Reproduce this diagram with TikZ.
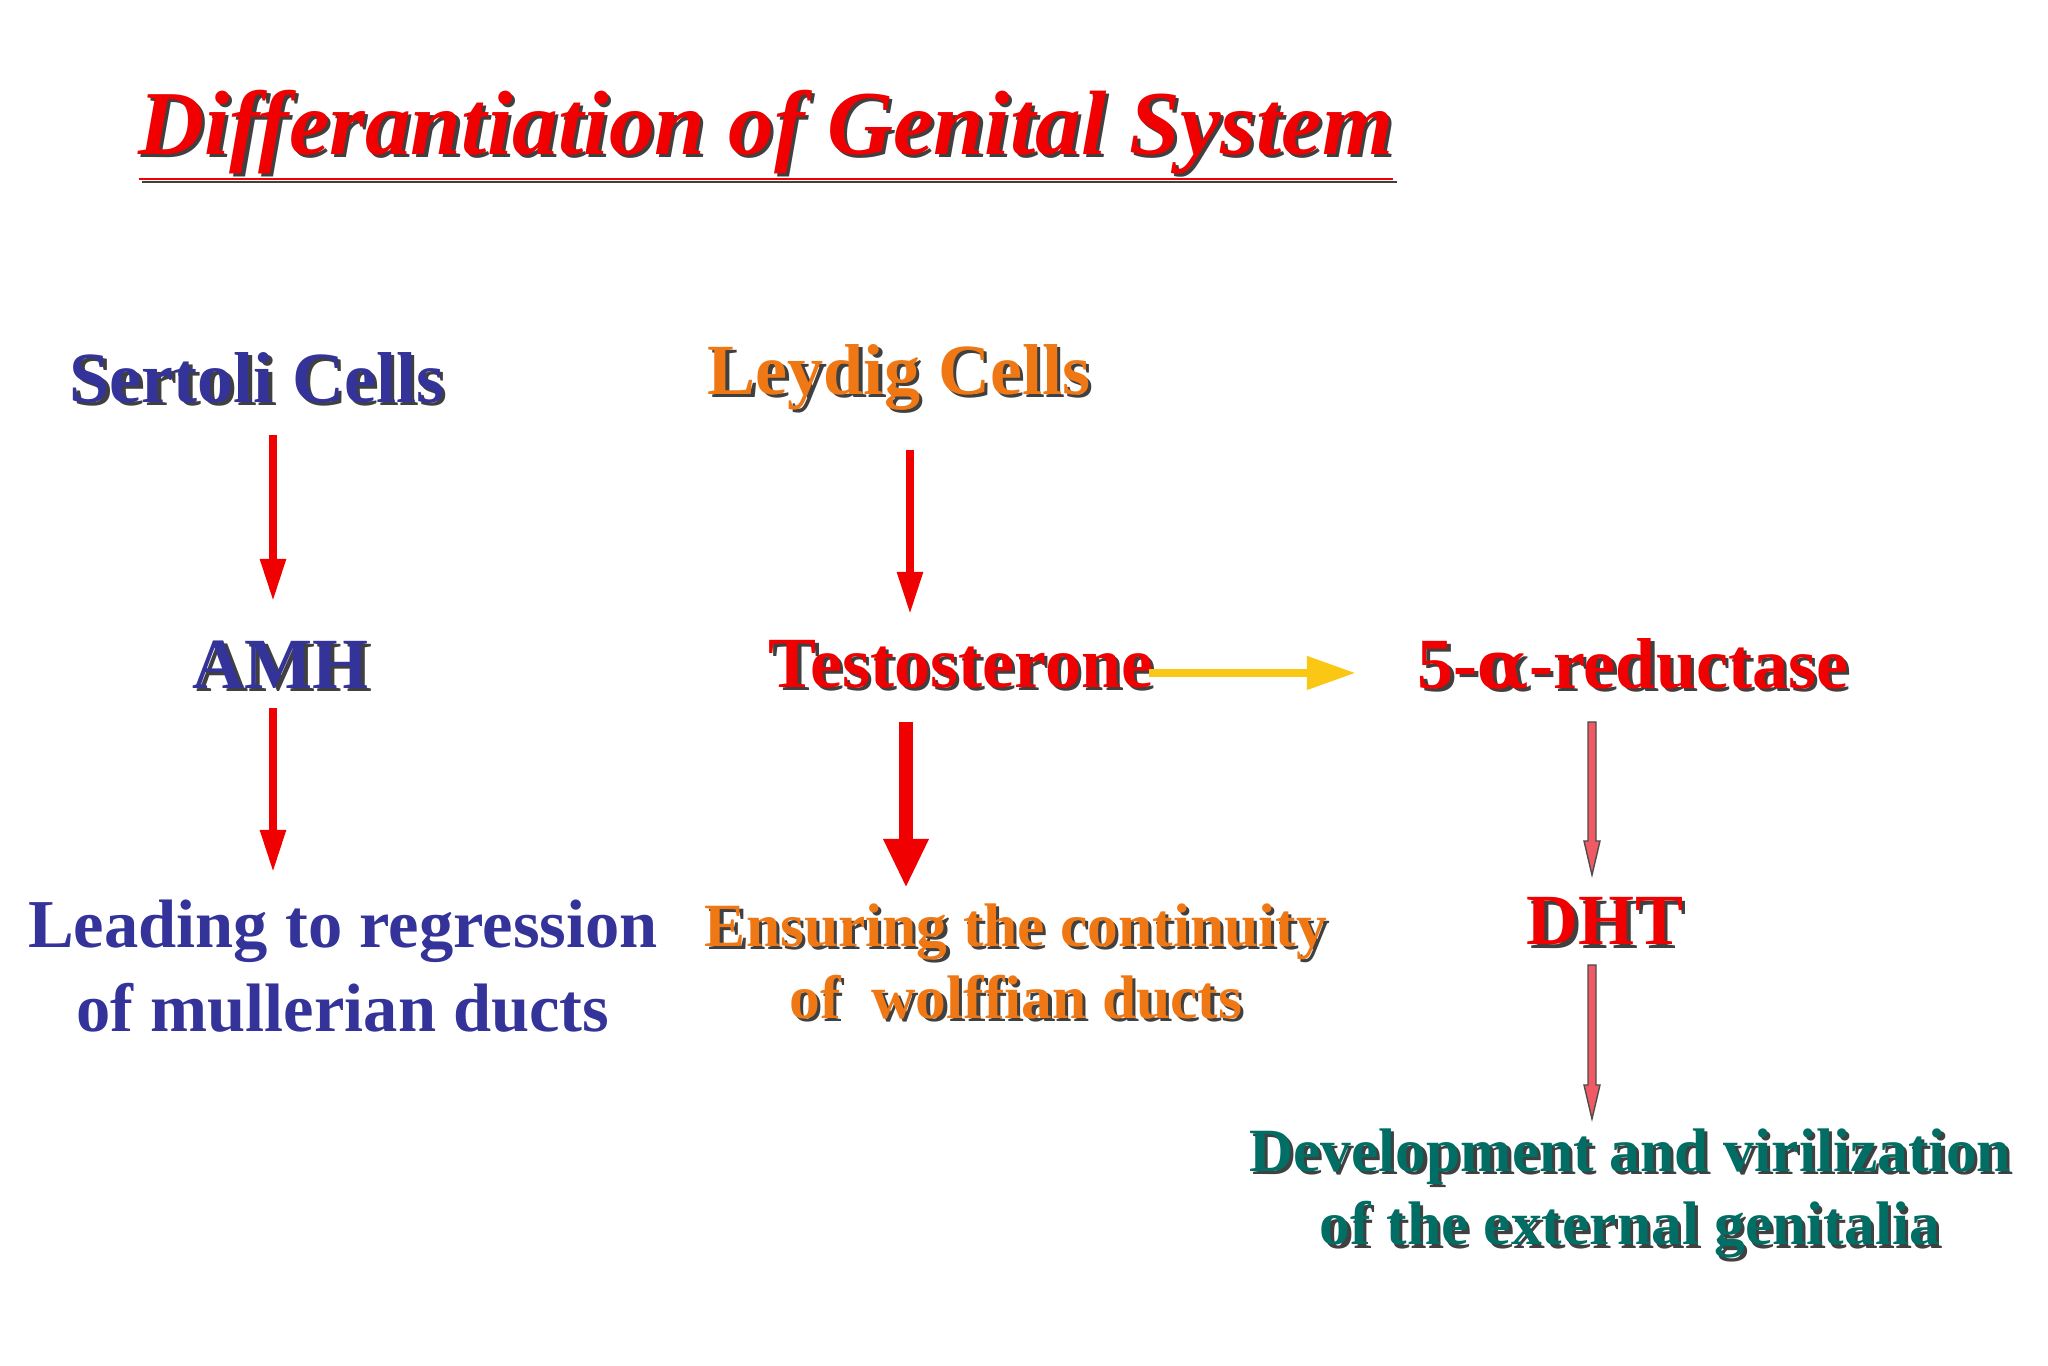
\documentclass[tikz,border=0pt]{standalone}
\usepackage{fontspec}
\setmainfont{Liberation Serif}
\usetikzlibrary{arrows.meta}
\definecolor{tred}{RGB}{240,0,0}
\definecolor{tblue}{RGB}{51,51,153}
\definecolor{torange}{RGB}{240,120,20}
\definecolor{tteal}{RGB}{0,110,100}
\definecolor{tyel}{RGB}{250,200,20}
\definecolor{tpink}{RGB}{240,90,100}
\newcommand\shtx[2]{\rlap{\raisebox{-0.9pt}{\hspace{0.9pt}\color{black!75}#2}}{\color{#1}#2}}
\newcommand\ul[1]{\underline{#1}}
\tikzset{
 lbl/.style={font=\bfseries\fontsize{20.5}{25}\selectfont, inner sep=1pt, align=center},
 rarr/.style={draw=tred, line width=2pt, -{Triangle[length=12pt,width=7pt]}},
 parr/.style={draw=black!70, fill=tpink, line width=0.4pt},
}
\begin{document}
\begin{tikzpicture}
\useasboundingbox (0,0) rectangle (20.48,13.66);
\node[font=\bfseries\itshape\fontsize{26}{30}\selectfont] (title) at (7.66,12.29)
  {\shtx{tred}{\setlength{\fboxsep}{0pt}\ul{Differantiation of Genital System}}};
\node[lbl] (sertoli) at (2.57,9.87) {\shtx{tblue}{Sertoli Cells}};
\node[lbl] (leydig) at (8.99,9.87) {\shtx{torange}{Leydig Cells}};
\node[lbl] (amh) at (2.81,7.00) {\shtx{tblue}{AMH}};
\node[lbl] (testo) at (9.61,7.00) {\shtx{tred}{Testosterone}};
\node[lbl] (red) at (16.33,7.00) {\shtx{tred}{5-\fontspec{DejaVu Serif}\fontsize{19}{25}\selectfont\char"03B1\normalfont\bfseries\fontsize{20.5}{25}\selectfont-reductase}};
\node[font=\bfseries\fontsize{19.5}{24}\selectfont, text=tblue, align=center] (lead) at (3.43,4.0)
  {Leading to regression\\ of mullerian ducts};
\node[lbl, font=\bfseries\fontsize{17.5}{20.5}\selectfont] (ens) at (10.16,4.03)
  {\shtx{torange}{Ensuring the continuity}\\ \shtx{torange}{of\ \ wolffian ducts}};
\node[lbl] (dht) at (16.05,4.43) {\shtx{tred}{DHT}};
\node[lbl, font=\bfseries\fontsize{17.5}{21}\selectfont] (dev) at (16.30,1.71)
  {\shtx{tteal}{Development and virilization}\\ \shtx{tteal}{of the external genitalia}};
% arrows
\coordinate (a1s) at (2.73,9.31); \coordinate (a1e) at (2.73,7.65);
\coordinate (a2s) at (2.73,6.58); \coordinate (a2e) at (2.73,4.94);
\coordinate (a3s) at (9.10,9.16); \coordinate (a3e) at (9.10,7.52);
\coordinate (a4s) at (9.06,6.44); \coordinate (a4e) at (9.06,4.78);
\coordinate (y1) at (11.49,6.93); \coordinate (y2) at (13.56,6.93);
\draw[rarr] (a1s) -- (a1e);
\draw[rarr] (a2s) -- (a2e);
\draw[rarr] (a3s) -- (a3e);
\draw[draw=tred, line width=4pt, -{Triangle[length=14pt,width=12pt]}] (a4s) -- (a4e);
\draw[draw=tyel, line width=2.5pt, -{Triangle[length=14pt,width=9pt]}] (y1) -- (y2);
\path[parr] (15.88,6.44) -- (15.96,6.44) -- (15.96,5.25) -- (16.00,5.25) -- (15.92,4.91) -- (15.84,5.25) -- (15.88,5.25) -- cycle;
\path[parr] (15.88,4.01) -- (15.96,4.01) -- (15.96,2.81) -- (16.00,2.81) -- (15.92,2.47) -- (15.84,2.81) -- (15.88,2.81) -- cycle;
\end{tikzpicture}
\end{document}
